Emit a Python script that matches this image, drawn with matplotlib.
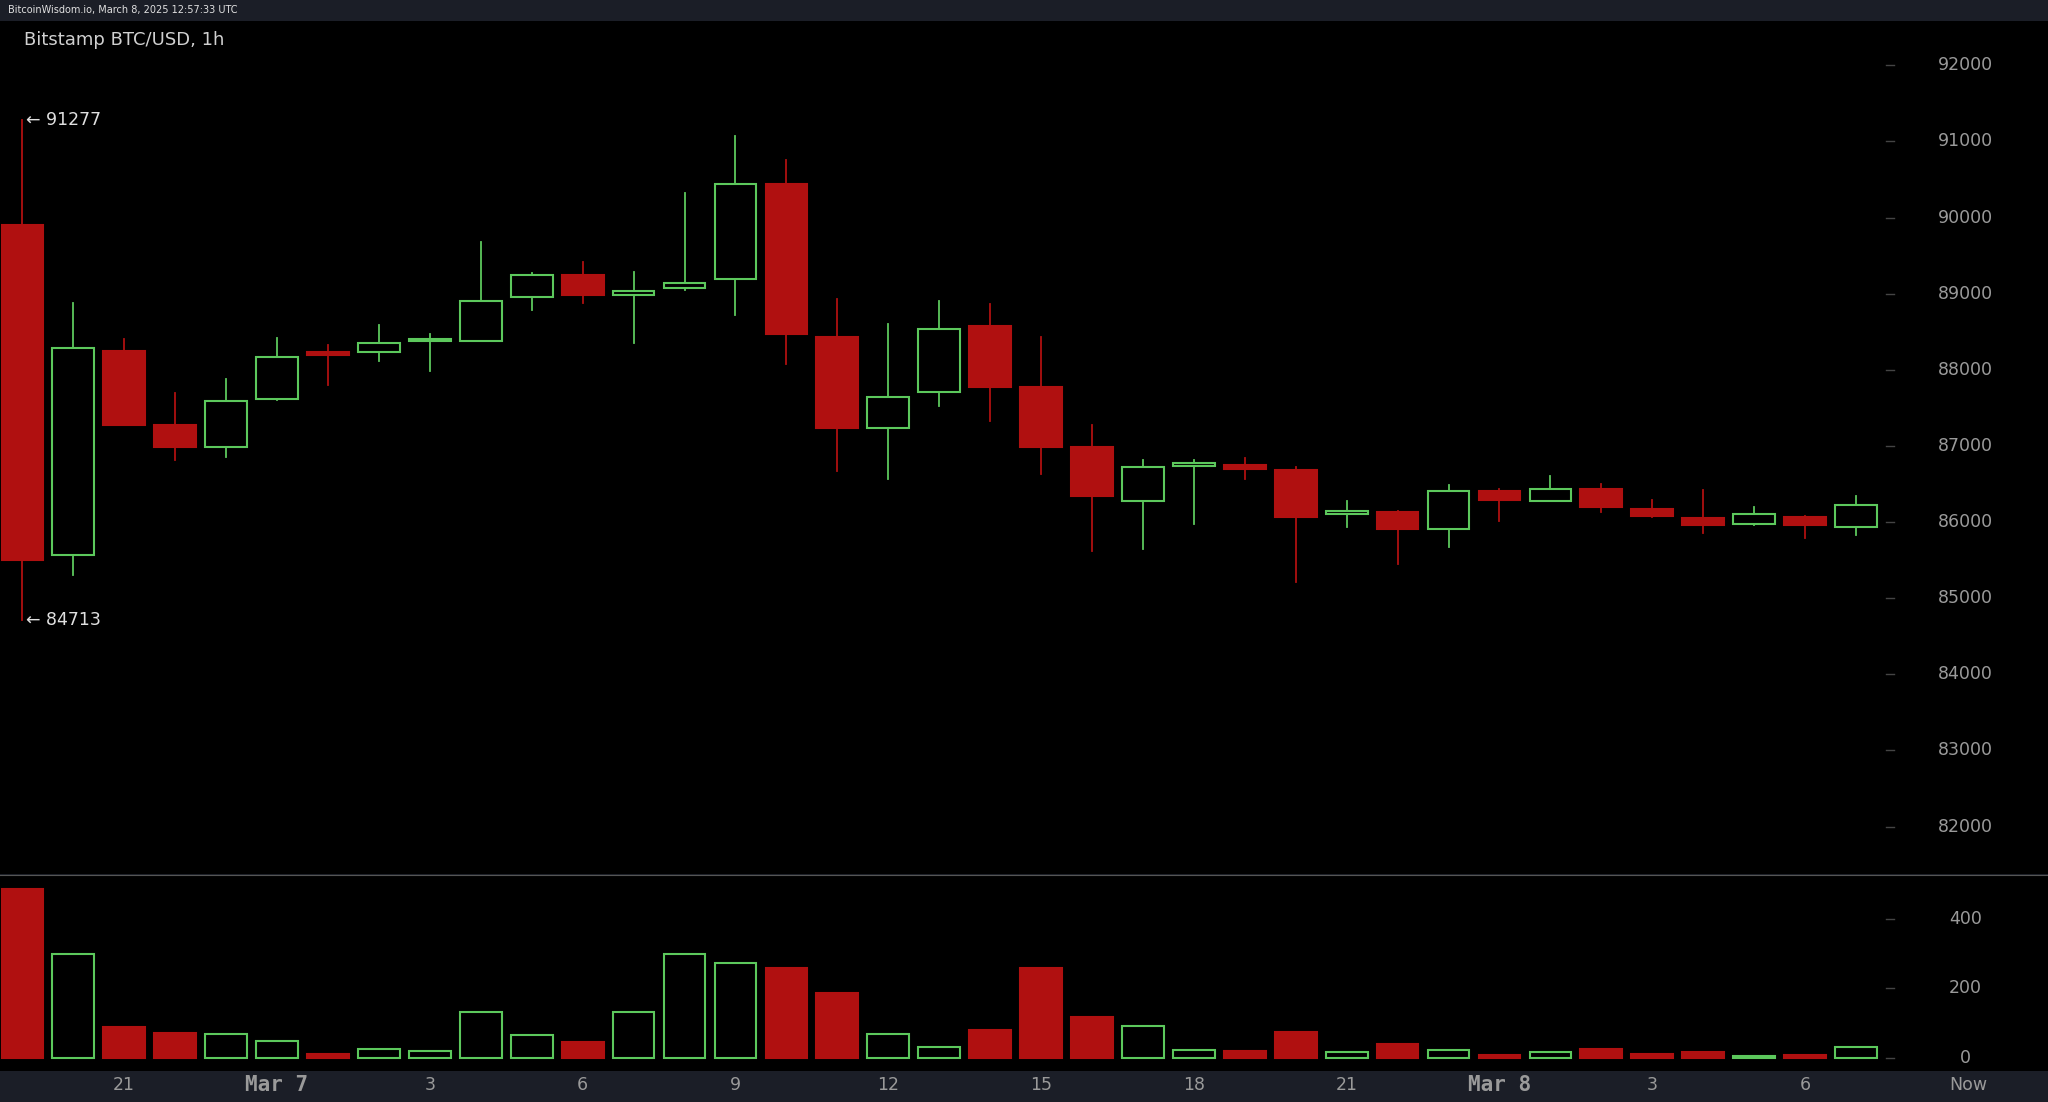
import matplotlib.pyplot as plt
from matplotlib.patches import Rectangle

# hourly candles, Mar 6 19:00 .. Mar 8 07:00
opens = [89900, 85570, 88250, 87270, 86990, 87620, 88240, 88240, 88380, 88380,
         88960, 89240, 88980, 89080, 89190, 90440, 88430, 87230, 87710, 88570,
         87780, 86980, 86270, 86730, 86750, 86680, 86100, 86130, 85910, 86410,
         86270, 86440, 86170, 86050, 85980, 86060, 85930]
highs = [91277, 88880, 88400, 87700, 87880, 88420, 88330, 88590, 88470, 89680,
         89270, 89410, 89290, 90320, 91070, 90760, 88930, 88600, 88900, 88860,
         88430, 87280, 86820, 86820, 86840, 86720, 86270, 86150, 86480, 86440,
         86610, 86500, 86290, 86420, 86200, 86080, 86340]
lows = [84713, 85300, 88250, 86820, 86850, 87600, 87800, 88120, 87990, 88380,
        88780, 88880, 88350, 89050, 88720, 88070, 86670, 86560, 87520, 87330,
        86630, 85620, 85640, 85980, 86560, 85210, 85930, 85450, 85670, 86010,
        86270, 86130, 86060, 85860, 85960, 85790, 85830]
closes = [85500, 88280, 87270, 86980, 87590, 88170, 88200, 88350, 88400, 88910,
          89240, 88980, 89030, 89140, 90440, 88470, 87230, 87640, 88540, 87780,
          86980, 86340, 86720, 86770, 86700, 86060, 86150, 85910, 86410, 86290,
          86440, 86200, 86080, 85960, 86100, 85960, 86220]
volumes = [487, 298, 87, 72, 68, 49, 11, 26, 19, 132, 64, 45, 132, 298, 272,
           260, 185, 68, 30, 79, 260, 117, 91, 23, 19, 75, 15, 38, 23, 8, 15,
           26, 11, 15, 4, 8, 30]
xtick_pos = [2, 5, 8, 11, 14, 17, 20, 23, 26, 29, 32, 35, 38.2]
xtick_labels = ["21", "Mar 7", "3", "6", "9", "12", "15", "18", "21", "Mar 8", "3", "6", "Now"]
price_ticks = [82000, 83000, 84000, 85000, 86000, 87000, 88000, 89000, 90000, 91000, 92000]
vol_ticks = [0, 200, 400]

RED = "#b01010"
GREEN = "#5cc85c"
GRAY = "#9a9a9a"

fig = plt.figure(figsize=(20.48, 11.02), dpi=100, facecolor="#1b1e27")
H = 844.0
xmin, xmax = -0.44, 39.77
w = 0.82

ax = fig.add_axes([0, 1 - 669 / H, 1, (669 - 16) / H], facecolor="black")
axv = fig.add_axes([0, 1 - 820 / H, 1, 150 / H], facecolor="black")

for i in range(len(opens)):
    o, h, l, c = opens[i], highs[i], lows[i], closes[i]
    up = c >= o
    col = GREEN if up else RED
    ax.plot([i, i], [l, max(o, c)], color=col, lw=1.3, zorder=1)
    ax.plot([i, i], [min(o, c), h], color=col, lw=1.3, zorder=1)
    ax.add_patch(Rectangle((i - w / 2, min(o, c)), w, max(abs(c - o), 15),
                           facecolor="black" if up else RED, edgecolor=col, lw=1.5, zorder=2))
    axv.add_patch(Rectangle((i - w / 2, 0), w, volumes[i],
                            facecolor="black" if up else RED, edgecolor=col, lw=1.5))

ax.set_xlim(xmin, xmax)
ax.set_ylim(81383, 92583)
axv.set_xlim(xmin, xmax)
axv.set_ylim(-38, 528)

xlab = 38.15
xdash = 36.67
for p in price_ticks:
    ax.text(xlab, p, str(p), color=GRAY, fontsize=12.5, ha="center", va="center")
    ax.plot([xdash - 0.08, xdash + 0.08], [p, p], color="#444", lw=1)
for v in vol_ticks:
    axv.text(xlab, v, str(v), color=GRAY, fontsize=12.5, ha="center", va="center")
    axv.plot([xdash - 0.08, xdash + 0.08], [v, v], color="#444", lw=1)

for a in (ax, axv):
    a.set_xticks([])
    a.set_yticks([])
    for s in a.spines.values():
        s.set_visible(False)
axv.spines["top"].set_visible(True)
axv.spines["top"].set_color("#555")

for p, t in zip(xtick_pos, xtick_labels):
    bold = t.startswith("Mar")
    fig.text((17 + p * 39) / 1568, 1 - 831 / H, t, color=GRAY, ha="center", va="center",
             fontsize=15 if bold else 12.5, fontweight="bold" if bold else "normal",
             family="DejaVu Sans Mono" if bold else "DejaVu Sans")

fig.text(18 / 1568, 1 - 31 / H, "Bitstamp BTC/USD, 1h", color="#d0d0d0",
         fontsize=13, ha="left", va="center")
ax.text(0.08, highs[0], "\u2190 91277", color="#e0e0e0", fontsize=12.5, ha="left", va="center")
ax.text(0.08, lows[0], "\u2190 84713", color="#e0e0e0", fontsize=12.5, ha="left", va="center")
fig.text(0.004, 1 - 8 / H, "BitcoinWisdom.io, March 8, 2025 12:57:33 UTC", color="#e0e0e0",
         fontsize=7, ha="left", va="center")

fig.savefig("out.png", dpi=100, facecolor=fig.get_facecolor())
